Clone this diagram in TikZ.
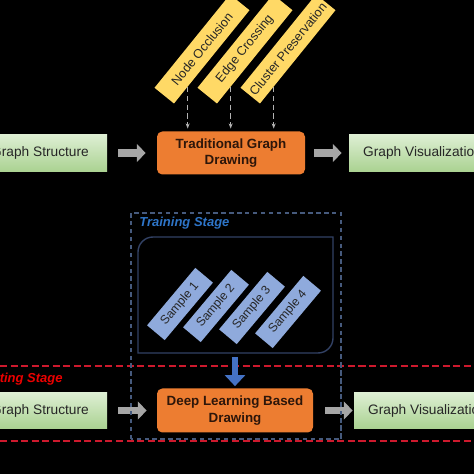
\documentclass[tikz,border=0pt]{standalone}
\usepackage{fontspec}
\setmainfont{Liberation Sans}
\usetikzlibrary{arrows.meta, calc, positioning}

\definecolor{gtop}{RGB}{222,239,212}
\definecolor{gbot}{RGB}{170,210,145}
\definecolor{boxorange}{RGB}{237,125,49}
\definecolor{otext}{RGB}{45,22,10}
\definecolor{crityellow}{RGB}{255,217,102}
\definecolor{sampleblue}{RGB}{143,170,220}
\definecolor{flowgray}{RGB}{166,166,166}
\definecolor{arrowblue}{RGB}{68,114,196}
\definecolor{trainblue}{RGB}{46,117,200}
\definecolor{stageline}{RGB}{70,90,125}
\definecolor{poolline}{RGB}{50,65,100}
\definecolor{testred}{RGB}{235,0,0}
\definecolor{redline}{RGB}{205,25,45}

\begin{document}
\begin{tikzpicture}[
    gbox/.style={top color=gtop, bottom color=gbot, minimum height=0.74cm, inner sep=2pt, font=\fontsize{7.8}{9}\selectfont, text=black!85},
    obox/.style={fill=boxorange, rounded corners=3pt, minimum height=0.86cm, align=center, inner sep=2pt, font=\bfseries\fontsize{7.6}{9.2}\selectfont, text=otext},
    crit/.style={fill=crityellow, rotate=51, minimum width=2.4cm, minimum height=0.5cm, inner sep=1pt, font=\fontsize{7.2}{8}\selectfont, text=black!85},
    sample/.style={fill=sampleblue, rotate=50, minimum width=1.5cm, minimum height=0.46cm, inner sep=1pt, font=\fontsize{7}{8}\selectfont, text=black!85},
    flow/.style={draw=flowgray, line width=4.5pt, -{Triangle[length=5pt, width=10pt]}},
    stagelabel/.style={font=\bfseries\itshape\fontsize{7.4}{8}\selectfont, inner sep=0pt}
]

% background and size
\fill[black] (0,0) rectangle (9.48,9.48);
\useasboundingbox (0,0) rectangle (9.48,9.48);

% traditional pipeline
\node[gbox, minimum width=2.68cm] (gs1) at (0.8,6.42) {Graph Structure};
\node[obox, minimum width=2.96cm] (trad) at (4.62,6.42) {Traditional Graph\\Drawing};
\node[gbox, minimum width=2.94cm] (gv1) at (8.45,6.42) {Graph Visualization};
\draw[flow, shorten <=0.22cm, shorten >=0.22cm] (gs1) -- (trad);
\draw[flow, shorten <=0.18cm, shorten >=0.14cm] (trad) -- (gv1);

% criteria
\foreach \i/\t in {1/Node Occlusion, 2/Edge Crossing, 3/Cluster Preservation} {
    \node[crit] (c\i) at ({4.04+0.86*(\i-1)}, 8.5) {\t};
    \coordinate (p\i) at ($(c\i.south west)!0.18!(c\i.south east)$);
    \draw[densely dashed, gray!60, line width=0.6pt, -{Stealth[length=3pt]}, shorten >=0.05cm] (p\i) -- (p\i |- trad.north);
}

% training stage
\draw[stageline, line width=0.6pt, dash pattern=on 2.5pt off 2pt] (2.62,0.70) rectangle (6.82,5.22);
\node[stagelabel, text=trainblue, anchor=west] (train) at (2.78,5.02) {Training Stage};
\draw[poolline, line width=0.8pt] (2.76,2.42) -- (2.76,4.44) arc[start angle=180, end angle=90, radius=0.3]
    -- (6.66,4.74) -- (6.66,2.72) arc[start angle=0, end angle=-90, radius=0.3] -- cycle;
\coordinate (pool) at (4.70,2.42);
\foreach \i/\y in {1/3.40, 2/3.36, 3/3.32, 4/3.24} {
    \node[sample] (s\i) at ({3.60+0.72*(\i-1)}, \y) {Sample \i};
}

% testing stage
\draw[redline, line width=0.7pt, dash pattern=on 4pt off 2pt] (0,2.16) -- (9.48,2.16);
\draw[redline, line width=0.7pt, dash pattern=on 4pt off 2pt] (0,0.66) -- (9.48,0.66);
\node[stagelabel, text=testred, anchor=east] (test) at (1.26,1.90) {Testing Stage};

\node[gbox, minimum width=2.68cm, minimum height=0.72cm] (gs2) at (0.8,1.27) {Graph Structure};
\node[obox, minimum width=3.12cm, minimum height=0.88cm] (dl) at (4.70,1.27) {Deep Learning Based\\Drawing};
\node[gbox, minimum width=2.94cm, minimum height=0.72cm] (gv2) at (8.55,1.27) {Graph Visualization};
\draw[flow, shorten <=0.22cm, shorten >=0.2cm] (gs2) -- (dl);
\draw[flow, shorten <=0.24cm, shorten >=0.02cm] (dl) -- (gv2);
\draw[arrowblue, line width=3.4pt, -{Triangle[length=6.3pt, width=11.4pt]}, shorten <=0.08cm, shorten >=0.04cm] (pool) -- (dl.north);

% dashed frame over the arrows
\draw[stageline, line width=0.6pt, dash pattern=on 2.5pt off 2pt] (2.62,0.70) -- (2.62,2.2);
\draw[stageline, line width=0.6pt, dash pattern=on 2.5pt off 2pt] (6.82,0.70) -- (6.82,2.2);

\end{tikzpicture}
\end{document}
